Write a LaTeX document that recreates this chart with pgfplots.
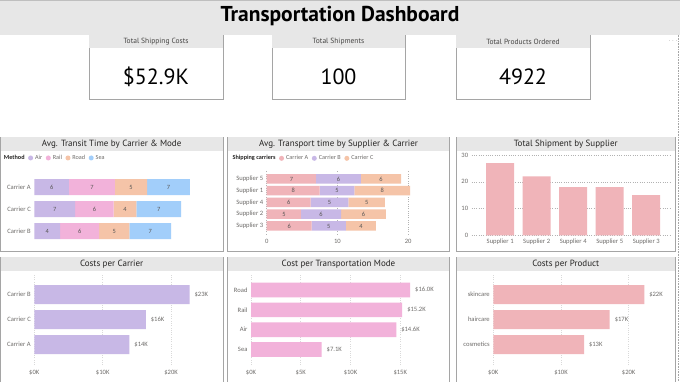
\documentclass[border=0pt]{standalone}
\usepackage{fontspec}
\setmainfont{Carlito}
\newfontfamily\dinfont{PT Sans}
\usepackage{pgfplots}
\pgfplotsset{compat=1.18}
\definecolor{lav}{RGB}{200,184,230}
\definecolor{pinkR}{RGB}{242,178,218}
\definecolor{peach}{RGB}{245,196,168}
\definecolor{sky}{RGB}{162,206,250}
\definecolor{rose}{RGB}{240,180,185}
\definecolor{hdr}{RGB}{231,231,231}
\definecolor{txt}{RGB}{110,108,106}
\definecolor{dark}{RGB}{37,36,35}
\definecolor{bord}{RGB}{165,165,165}
\pgfplotsset{
  pbi/.style={scale only axis, clip=false, anchor=south west,
    axis line style={draw=none}, major tick length=0pt, tick style={draw=none},
    ticklabel style={font=\fontsize{6.6}{7.5}\selectfont, text=txt},
    /pgf/number format/assume math mode=true},
  dotgrid/.style={major grid style={draw=black!30, dash pattern=on 0.7pt off 1.6pt, line width=0.5pt}},
  vallab/.style={nodes near coords, point meta=x,
    every node near coord/.append style={font=\fontsize{6.6}{7.5}\selectfont, text=txt, xshift=1.5pt}},
  seglab/.style={draw=none, mark=none, nodes near coords, point meta=explicit symbolic,
    every node near coord/.append style={anchor=center, font=\fontsize{6.4}{7}\selectfont, text=txt!80!black}},
  c1/.style={pbi, at={(34.3pt,128pt)}, width=189pt, height=88pt, xmin=0, xmax=30, ymin=-1, ymax=3},
  c2/.style={pbi, at={(266.7pt,146.8pt)}, width=176.75pt, height=63.45pt, xmin=0, xmax=25, ymin=-0.7, ymax=4.7},
}
\newcommand{\panel}[5]{%
  \draw[bord, fill=white, line width=0.6pt] (#1,381-#4) rectangle (#3,381-#2);
  \fill[hdr] ({#1+0.3},381-#2-14) rectangle ({#3-0.3},{381-#2-0.3});
  \node[text=dark, font=\dinfont\fontsize{9}{10}\selectfont] at ({(#1+#3)/2},{381-#2-7}) {#5};
}
\newcommand{\kpi}[5]{%
  \draw[bord, fill=white, line width=0.6pt] (#1,381-99) rectangle (#2,381-35);
  \fill[hdr] ({#1+0.3},381-48) rectangle ({#2-0.3},381-35.3);
  \node[text=dark!85, font=\dinfont\fontsize{7.5}{8}\selectfont] at ({(#1+#2)/2},381-41.5) {#3};
  \node[text=black, font=\dinfont\fontsize{22}{24}\selectfont] at ({(#1+#2)/2},381-77) {#4};
}
\begin{document}
\begin{tikzpicture}[x=1pt,y=1pt]
\useasboundingbox (0,0) rectangle (680,381);
\fill[white] (0,0) rectangle (680,381);
% title band
\fill[hdr] (0,381-35) rectangle (680,381);
\draw[black!25, line width=0.5pt] (0,380.5) -- (680,380.5);
\node[font=\dinfont\bfseries\fontsize{21.5}{23}\selectfont, text=black] at (340,381-16.5) {Transportation Dashboard};
\draw[black!35, dash pattern=on 0.8pt off 0.8pt] (678.5,0) -- (678.5,381-35);
\node[text=txt, font=\fontsize{6}{6}\selectfont] at (673,381-41) {$\cdots$};
% KPI cards
\kpi{89}{223}{Total Shipping Costs}{\$52.9K}{}
\kpi{272}{405}{Total Shipments}{100}{}
\kpi{456}{590}{Total Products Ordered}{4922}{}
% panels
\panel{0.3}{137}{223}{251.5}{Avg. Transit Time by Carrier \& Mode}
\panel{227.5}{137}{449.5}{251.5}{Avg. Transport time by Supplier \& Carrier}
\panel{456.5}{137}{675}{251.5}{Total Shipment by Supplier}
\panel{0.3}{257}{223}{385}{Costs per Carrier}
\panel{227.5}{257}{449.5}{385}{Cost per Transportation Mode}
\panel{456.5}{257}{675}{385}{Costs per Product}

% ---- Chart 1
\begin{axis}[c1, xbar stacked, bar width=16pt, xtick=\empty,
  ytick={0,1,2}, yticklabels={Carrier B, Carrier C, Carrier A},
  legend style={at={(axis description cs:-0.172,1.08)}, anchor=west, draw=none, fill=none,
    font=\fontsize{6.2}{7}\selectfont, text=txt, legend columns=-1, inner sep=0pt,
    /tikz/every even column/.append style={column sep=1.5pt}},
  legend image code/.code={\fill[#1,draw=none] (1.5pt,0pt) circle (2.5pt);}]
\addlegendimage{empty legend}
\addlegendentry{\textcolor{dark}{\textbf{Method}}}
\addplot[fill=lav, draw=none] coordinates {(5.5,2) (6.5,1) (4.1,0)};
\addlegendentry{Air}
\addplot[fill=pinkR, draw=none] coordinates {(7.3,2) (6.1,1) (6.2,0)};
\addlegendentry{Rail}
\addplot[fill=peach, draw=none] coordinates {(5.1,2) (3.6,1) (4.8,0)};
\addlegendentry{Road}
\addplot[fill=sky, draw=none] coordinates {(6.8,2) (7.1,1) (6.6,0)};
\addlegendentry{Sea}
\end{axis}
\begin{axis}[c1, hide axis]
\addplot[seglab] coordinates {
 (2.75,2) [6] (9.15,2) [7] (15.35,2) [5] (21.3,2) [7]
 (3.25,1) [7] (9.55,1) [6] (14.4,1) [4] (19.75,1) [7]
 (2.05,0) [4] (7.2,0) [6] (12.7,0) [5] (18.4,0) [7]};
\end{axis}

% ---- Chart 2
\begin{axis}[c2, xbar stacked, bar width=9.5pt, xtick={0,10,20}, xmajorgrids, dotgrid,
  xticklabel style={yshift=-1.5pt},
  ytick={0,1,2,3,4}, yticklabels={Supplier 3, Supplier 2, Supplier 4, Supplier 1, Supplier 5},
  legend style={at={(axis description cs:-0.205,1.196)}, anchor=west, draw=none, fill=none,
    font=\fontsize{6.2}{7}\selectfont, text=txt, legend columns=-1, inner sep=0pt,
    /tikz/every even column/.append style={column sep=1.5pt}},
  legend image code/.code={\fill[#1,draw=none] (1.5pt,0pt) circle (2.5pt);}]
\addlegendimage{empty legend}
\addlegendentry{\textcolor{dark}{\textbf{Shipping carriers}}}
\addplot[fill=rose, draw=none] coordinates {(6.36,0) (4.85,1) (6.22,2) (7.5,3) (6.97,4)};
\addlegendentry{Carrier A}
\addplot[fill=lav, draw=none] coordinates {(4.85,0) (5.66,1) (5.32,2) (4.9,3) (6.36,4)};
\addlegendentry{Carrier B}
\addplot[fill=peach, draw=none] coordinates {(4.24,0) (6.36,1) (5.19,2) (7.9,3) (5.7,4)};
\addlegendentry{Carrier C}
\end{axis}
\begin{axis}[c2, hide axis]
\addplot[seglab] coordinates {
 (3.49,4) [7] (10.15,4) [6] (16.18,4) [6]
 (3.75,3) [8] (9.95,3) [5] (16.35,3) [8]
 (3.11,2) [6] (8.88,2) [5] (14.14,2) [5]
 (2.43,1) [5] (7.68,1) [6] (13.69,1) [6]
 (3.18,0) [6] (8.79,0) [5] (13.33,0) [4]};
\end{axis}

% ---- Chart 3
\begin{axis}[pbi, at={(471.7pt,145.7pt)}, width=198.6pt, height=80.3pt,
  xmin=-0.78, xmax=4.66, ymin=0, ymax=30, ybar, bar width=28pt,
  ytick={0,10,20,30}, ymajorgrids, dotgrid,
  xtick={0,1,2,3,4}, xticklabels={Supplier 1, Supplier 2, Supplier 4, Supplier 5, Supplier 3}]
\addplot[fill=rose, draw=none] coordinates {(0,27) (1,22) (2,18) (3,18) (4,15)};
\end{axis}

% ---- Chart 4
\begin{axis}[pbi, at={(34.3pt,16pt)}, width=184.7pt, height=90pt,
  xmin=0, xmax=27, ymin=-0.81, ymax=2.78, xbar, bar width=19pt,
  xtick={0,10,20}, xticklabels={\$0K,\$10K,\$20K}, xmajorgrids, dotgrid,
  major grid style={draw=black!15}, xticklabel style={yshift=-1.5pt},
  ytick={0,1,2}, yticklabels={Carrier A, Carrier C, Carrier B},
  vallab, nodes near coords={\$\pgfmathprintnumber[fixed,precision=0]{\pgfplotspointmeta}K}]
\addplot[fill=lav, draw=none] coordinates {(13.9,0) (16.3,1) (22.7,2)};
\end{axis}

% ---- Chart 5
\begin{axis}[pbi, at={(251pt,16pt)}, width=194pt, height=90pt,
  xmin=0, xmax=19.5, ymin=-0.78, ymax=3.76, xbar, bar width=14.7pt,
  xtick={0,5,10,15}, xticklabels={\$0K,\$5K,\$10K,\$15K}, xmajorgrids, dotgrid,
  major grid style={draw=black!15}, xticklabel style={yshift=-1.5pt},
  ytick={0,1,2,3}, yticklabels={Sea, Air, Rail, Road},
  vallab, nodes near coords={\$\pgfmathprintnumber[fixed,fixed zerofill,precision=1]{\pgfplotspointmeta}K}]
\addplot[fill=pinkR, draw=none] coordinates {(7.1,0) (14.6,1) (15.2,2) (16.0,3)};
\end{axis}

% ---- Chart 6
\begin{axis}[pbi, at={(493.3pt,16pt)}, width=176pt, height=90pt,
  xmin=0, xmax=26, ymin=-0.81, ymax=2.78, xbar, bar width=19pt,
  xtick={0,10,20}, xticklabels={\$0K,\$10K,\$20K}, xmajorgrids, dotgrid,
  major grid style={draw=black!15}, xticklabel style={yshift=-1.5pt},
  ytick={0,1,2}, yticklabels={cosmetics, haircare, skincare},
  vallab, nodes near coords={\$\pgfmathprintnumber[fixed,precision=0]{\pgfplotspointmeta}K}]
\addplot[fill=rose, draw=none] coordinates {(13.4,0) (17.2,1) (22.3,2)};
\end{axis}
\end{tikzpicture}
\end{document}
